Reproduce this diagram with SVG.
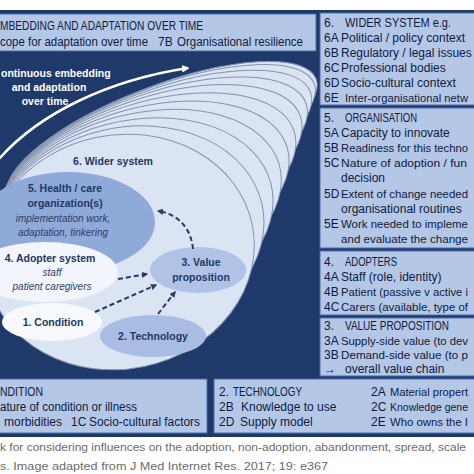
<svg xmlns="http://www.w3.org/2000/svg" width="474" height="474" viewBox="0 0 474 474">
<defs>
<style>
.bg{fill:#1f3a6a}
.box{fill:#b4c7e7;stroke:#4d6ca8;stroke-width:1}
.bt{font-family:"Liberation Sans",Arial,sans-serif;font-size:12px;fill:#0e1b3d}
.bt2{font-family:"Liberation Sans",Arial,sans-serif;font-size:11.2px;fill:#0e1b3d}
.horn{fill:#dbe4f3;stroke:#8392ad;stroke-width:1}
.lbl{font-family:"Liberation Sans",Arial,sans-serif;font-size:10.5px;font-weight:bold;fill:#1f3864;text-anchor:middle}
.it{font-family:"Liberation Sans",Arial,sans-serif;font-size:10px;font-style:italic;fill:#2c3e66;text-anchor:middle}
.wt{font-family:"Liberation Sans",Arial,sans-serif;font-size:10.5px;font-weight:bold;fill:#ffffff;text-anchor:middle}
.dash{fill:none;stroke:#2a3c62;stroke-width:2;stroke-dasharray:5 3;marker-end:url(#ah)}
.cap{font-family:"Liberation Sans",Arial,sans-serif;font-size:11.2px;fill:#6b6b6b}
</style>
<marker id="ah" viewBox="0 0 10 10" refX="8" refY="5" markerWidth="3.2" markerHeight="3.2" orient="auto"><path d="M0,0 L10,5 L0,10 z" fill="#2a3c62"/></marker>
<marker id="wh" viewBox="0 0 10 10" refX="8" refY="5" markerWidth="3" markerHeight="3" orient="auto"><path d="M0,0 L10,5 L0,10 z" fill="#ffffff"/></marker>
</defs>
<rect x="0" y="0" width="474" height="474" fill="#ffffff"/>
<rect class="bg" x="0" y="10" width="474" height="427"/>

<g id="horn">
<ellipse class="horn" cx="162" cy="138" rx="165" ry="52" transform="rotate(-21 162 138)"/>
<ellipse class="horn" cx="160.7" cy="141.6" rx="164.1" ry="54.1" transform="rotate(-20.7 160.7 141.6)"/>
<ellipse class="horn" cx="158.2" cy="148.2" rx="162.3" ry="57.8" transform="rotate(-20.2 158.2 148.2)"/>
<ellipse class="horn" cx="155.1" cy="156.7" rx="160.1" ry="62.7" transform="rotate(-19.5 155.1 156.7)"/>
<ellipse class="horn" cx="151.4" cy="166.8" rx="157.4" ry="68.4" transform="rotate(-18.7 151.4 166.8)"/>
<ellipse class="horn" cx="147.1" cy="178.3" rx="154.4" ry="75" transform="rotate(-17.8 147.1 178.3)"/>
<ellipse class="horn" cx="142.5" cy="191" rx="151.1" ry="82.2" transform="rotate(-16.8 142.5 191)"/>
<ellipse class="horn" cx="137.4" cy="204.8" rx="147.4" ry="90.1" transform="rotate(-15.7 137.4 204.8)"/>
<ellipse class="horn" cx="132" cy="219.6" rx="143.5" ry="98.5" transform="rotate(-14.6 132 219.6)"/>
<ellipse class="horn" cx="126.1" cy="235.3" rx="139.4" ry="107.5" transform="rotate(-13.3 126.1 235.3)"/>
<ellipse class="horn" cx="120" cy="252" rx="135" ry="117" transform="rotate(-12 120 252)"/>
</g>

<g id="embedding-arrow">
<path d="M-2,160 C40,112 110,80 188,68" fill="none" stroke="#ffffff" stroke-width="2.5" marker-end="url(#wh)"/>
<text class="wt" x="49" y="77"><tspan x="1" style="text-anchor:start">ontinuous embedding</tspan><tspan x="49" dy="14">and adaptation</tspan><tspan x="45" dy="14">over time</tspan></text>
</g>

<g id="wider-system">
<text class="lbl" x="113" y="165">6. Wider system</text>
</g>

<g id="health-org">
<ellipse cx="68" cy="222" rx="87" ry="50" fill="#8faad9"/>
<text class="lbl" x="65" y="192">5. Health / care</text>
<text class="lbl" x="65" y="207">organization(s)</text>
<text class="it" x="63" y="222">implementation work,</text>
<text class="it" x="63" y="236">adaptation, tinkering</text>
</g>

<g id="adopter">
<ellipse cx="45" cy="272" rx="73" ry="30" fill="#f2f5fb"/>
<text class="lbl" x="50" y="262">4. Adopter system</text>
<text class="it" x="52" y="276">staff</text>
<text class="it" x="52" y="290">patient  caregivers</text>
</g>

<g id="condition">
<ellipse cx="52" cy="322" rx="50" ry="19" fill="#f7f9fd"/>
<text class="lbl" x="53" y="326">1. Condition</text>
</g>

<g id="technology">
<ellipse cx="153" cy="336" rx="53" ry="21" fill="#a9bde3"/>
<text class="lbl" x="153" y="340">2. Technology</text>
</g>

<g id="value">
<ellipse cx="198" cy="270" rx="48" ry="23" fill="#b0c3e6"/>
<text class="lbl" x="201" y="266">3. Value</text>
<text class="lbl" x="201" y="281">proposition</text>
</g>

<g id="connectors">
<path class="dash" d="M118,279 L147,274"/>
<path class="dash" d="M95,312 L156,285"/>
<path class="dash" d="M158,314 L175,292"/>
<path class="dash" d="M193,249 C191,228 178,214 158,211"/>
</g>

<g id="box7">
<rect class="box" x="-1" y="14" width="317" height="37"/>
<text class="bt" x="0" y="29.5" textLength="203" lengthAdjust="spacingAndGlyphs">MBEDDING AND ADAPTATION OVER TIME</text>
<text class="bt" x="0" y="45.5" textLength="148" lengthAdjust="spacingAndGlyphs">cope for adaptation over time</text>
<text class="bt" x="158" y="45.5">7B</text>
<text class="bt" x="177" y="45.5" textLength="126" lengthAdjust="spacingAndGlyphs">Organisational resilience</text>
</g>

<g id="box6">
<rect class="box" x="320" y="13" width="155" height="92"/>
<text class="bt" x="324" y="26.5">6.</text>
<text class="bt" x="345" y="26.5" textLength="106" lengthAdjust="spacingAndGlyphs">WIDER SYSTEM e.g.</text>
<text class="bt" x="324" y="41.5">6A</text><text class="bt" x="341" y="41.5">Political / policy context</text>
<text class="bt" x="324" y="56.5">6B</text><text class="bt" x="341" y="56.5">Regulatory / legal issues</text>
<text class="bt" x="324" y="71.5">6C</text><text class="bt" x="341" y="71.5">Professional bodies</text>
<text class="bt" x="324" y="86.5">6D</text><text class="bt" x="341" y="86.5">Socio-cultural context</text>
<text class="bt" x="324" y="101.5">6E</text><text class="bt2" x="345" y="101.5" textLength="123" lengthAdjust="spacingAndGlyphs">Inter-organisational netw</text>
</g>

<g id="box5">
<rect class="box" x="320" y="108" width="155" height="140"/>
<text class="bt" x="324" y="121.5">5.</text>
<text class="bt" x="345" y="121.5" textLength="72" lengthAdjust="spacingAndGlyphs">ORGANISATION</text>
<text class="bt" x="324" y="136.7">5A</text><text class="bt" x="341" y="136.7">Capacity to innovate</text>
<text class="bt" x="324" y="151.9">5B</text><text class="bt2" x="341" y="151.9" textLength="127" lengthAdjust="spacingAndGlyphs">Readiness for this techno</text>
<text class="bt" x="324" y="167.1">5C</text><text class="bt2" x="341" y="167.1" textLength="126" lengthAdjust="spacingAndGlyphs">Nature of adoption / fun</text>
<text class="bt" x="341" y="182.3">decision</text>
<text class="bt" x="324" y="197.5">5D</text><text class="bt2" x="341" y="197.5" textLength="127" lengthAdjust="spacingAndGlyphs">Extent of change needed</text>
<text class="bt" x="341" y="212.7">organisational routines</text>
<text class="bt" x="324" y="227.9">5E</text><text class="bt2" x="341" y="227.9" textLength="127" lengthAdjust="spacingAndGlyphs">Work needed to impleme</text>
<text class="bt2" x="341" y="243.1" textLength="127" lengthAdjust="spacingAndGlyphs">and evaluate the change</text>
</g>

<g id="box4">
<rect class="box" x="320" y="251" width="155" height="64"/>
<text class="bt" x="324" y="265.5">4.</text>
<text class="bt" x="345" y="265.5" textLength="52" lengthAdjust="spacingAndGlyphs">ADOPTERS</text>
<text class="bt" x="324" y="280.5">4A</text><text class="bt" x="341" y="280.5">Staff (role, identity)</text>
<text class="bt" x="324" y="295.5">4B</text><text class="bt2" x="341" y="295.5" textLength="127" lengthAdjust="spacingAndGlyphs">Patient (passive v active i</text>
<text class="bt" x="324" y="310.5">4C</text><text class="bt2" x="341" y="310.5" textLength="127" lengthAdjust="spacingAndGlyphs">Carers (available, type of</text>
</g>

<g id="box3">
<rect class="box" x="320" y="318" width="155" height="58"/>
<text class="bt" x="324" y="330">3.</text>
<text class="bt" x="345" y="330" textLength="104" lengthAdjust="spacingAndGlyphs">VALUE PROPOSITION</text>
<text class="bt" x="324" y="344.5">3A</text><text class="bt2" x="341" y="344.5" textLength="127" lengthAdjust="spacingAndGlyphs">Supply-side value (to dev</text>
<text class="bt" x="324" y="359">3B</text><text class="bt2" x="341" y="359" textLength="127" lengthAdjust="spacingAndGlyphs">Demand-side value (to p</text>
<text class="bt" x="324" y="373">→</text><text class="bt" x="345" y="373">overall value chain</text>
</g>

<g id="box1">
<rect class="box" x="-1" y="379" width="208" height="54"/>
<text class="bt" x="0" y="396" textLength="43" lengthAdjust="spacingAndGlyphs">NDITION</text>
<text class="bt" x="0" y="411" textLength="137" lengthAdjust="spacingAndGlyphs">ature of condition or illness</text>
<text class="bt" x="4" y="426">morbidities</text>
<text class="bt" x="71" y="426">1C</text>
<text class="bt" x="89" y="426" textLength="111" lengthAdjust="spacingAndGlyphs">Socio-cultural factors</text>
</g>

<g id="box2">
<rect class="box" x="214" y="379" width="261" height="54"/>
<text class="bt" x="219" y="396">2.</text>
<text class="bt" x="233" y="396" textLength="69" lengthAdjust="spacingAndGlyphs">TECHNOLOGY</text>
<text class="bt" x="219" y="411">2B</text><text class="bt" x="241" y="411">Knowledge to use</text>
<text class="bt" x="219" y="426">2D</text><text class="bt" x="240" y="426">Supply model</text>
<text class="bt" x="371" y="396">2A</text><text class="bt2" x="390" y="396" textLength="78" lengthAdjust="spacingAndGlyphs">Material propert</text>
<text class="bt" x="371" y="411">2C</text><text class="bt2" x="390" y="411" textLength="78" lengthAdjust="spacingAndGlyphs">Knowledge gene</text>
<text class="bt" x="371" y="426">2E</text><text class="bt2" x="390" y="426" textLength="78" lengthAdjust="spacingAndGlyphs">Who owns the I</text>
</g>

<g id="caption">
<text class="cap" x="0" y="451" textLength="466" lengthAdjust="spacingAndGlyphs">k for considering influences on the adoption, non-adoption, abandonment, spread, scale</text>
<text class="cap" x="0" y="470" textLength="328" lengthAdjust="spacingAndGlyphs">s. Image adapted from J Med Internet Res. 2017; 19: e367</text>
</g>
</svg>
